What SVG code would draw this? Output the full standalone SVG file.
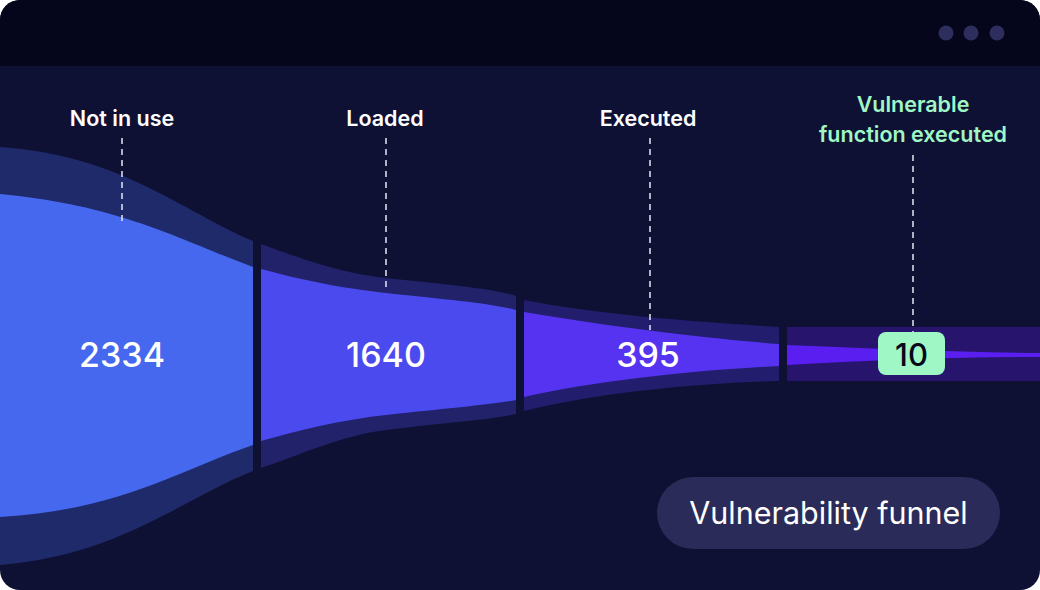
<svg xmlns="http://www.w3.org/2000/svg" width="1040" height="590" viewBox="0 0 1040 590">
<style>
.lbl{font-family:"Inter","Liberation Sans",sans-serif;font-weight:600;font-size:21.5px;fill:#fff;text-anchor:middle}
.num{font-family:"Inter","Liberation Sans",sans-serif;font-weight:500;font-size:34px;fill:#fff;text-anchor:middle}
.dash{stroke:#e6e8f5;stroke-width:1.5;stroke-dasharray:6 5;fill:none}
</style>
<defs><clipPath id="card"><rect x="0" y="0" width="1040" height="590" rx="20"/></clipPath></defs>
<rect width="1040" height="590" fill="#fff"/>
<g clip-path="url(#card)">
<rect width="1040" height="590" fill="#0e1133"/>
<rect width="1040" height="66" fill="#05061c"/>
<g id="dots" fill="#2d2e5e"><circle cx="946" cy="33" r="7.5"/><circle cx="971" cy="33" r="7.5"/><circle cx="997" cy="33" r="7.5"/></g>
<g id="seg1">
<path d="M0 147 C120 155 180 210 253 241 L253 471 C180 500 120 555 0 565 Z" fill="#1f2a6a"/>
<path d="M0 194 C120 205 180 240 253 267 L253 445 C180 470 120 510 0 517 Z" fill="#4568ee"/>
<text class="num" x="122" y="367">2334</text>
</g>
<g id="seg2">
<path d="M261 244 C330 270 360 275 386 278 C450 285 490 288 516 296 L516 414 C490 420 450 422 386 430 C340 436 300 455 261 468 Z" fill="#21226a"/>
<path d="M261 269 C320 285 360 290 386 293 C450 300 490 303 516 310 L516 400 C490 405 450 408 386 415 C340 420 300 430 261 441 Z" fill="#4b4aef"/>
<text class="num" x="386" y="367">1640</text>
</g>
<g id="seg3">
<path d="M524 300 C600 315 700 322 779 327 L779 381 C700 383 600 392 524 411 Z" fill="#231d6d"/>
<path d="M524 312 C600 325 700 338 779 344 L779 366 C700 370 600 380 524 397 Z" fill="#5533f0"/>
<text class="num" x="648" y="367">395</text>
</g>
<g id="seg4">
<rect x="787" y="327" width="253" height="54" fill="#26146d"/>
<path d="M787 345 C880 349 960 352 1040 353 L1040 357 C960 357 880 360 787 365 Z" fill="#5a1ef0"/>
<rect x="878" y="332" width="67" height="43" rx="8" fill="#a0f7c6"/>
<text x="911.5" y="366" font-family="Inter,'Liberation Sans',sans-serif" font-weight="500" font-size="31" fill="#07071a" text-anchor="middle">10</text>
</g>
<g id="connectors">
<line class="dash" x1="122" y1="138" x2="122" y2="222"/>
<line class="dash" x1="386" y1="138" x2="386" y2="287"/>
<line class="dash" x1="650" y1="138" x2="650" y2="330"/>
<line class="dash" x1="913" y1="155" x2="913" y2="332"/>
</g>
<g id="labels">
<text class="lbl" x="122" y="126">Not in use</text>
<text class="lbl" x="385" y="126">Loaded</text>
<text class="lbl" x="648" y="126">Executed</text>
<text class="lbl" x="913" y="112" style="fill:#a0f7c6">Vulnerable</text>
<text class="lbl" x="913" y="142" style="fill:#a0f7c6">function executed</text>
</g>
<g id="pill">
<rect x="657" y="477" width="343" height="72" rx="36" fill="#2a2b58"/>
<text x="828.5" y="524" font-family="Inter,'Liberation Sans',sans-serif" font-size="30.5" fill="#fff" text-anchor="middle">Vulnerability funnel</text>
</g>
</g>
</svg>
